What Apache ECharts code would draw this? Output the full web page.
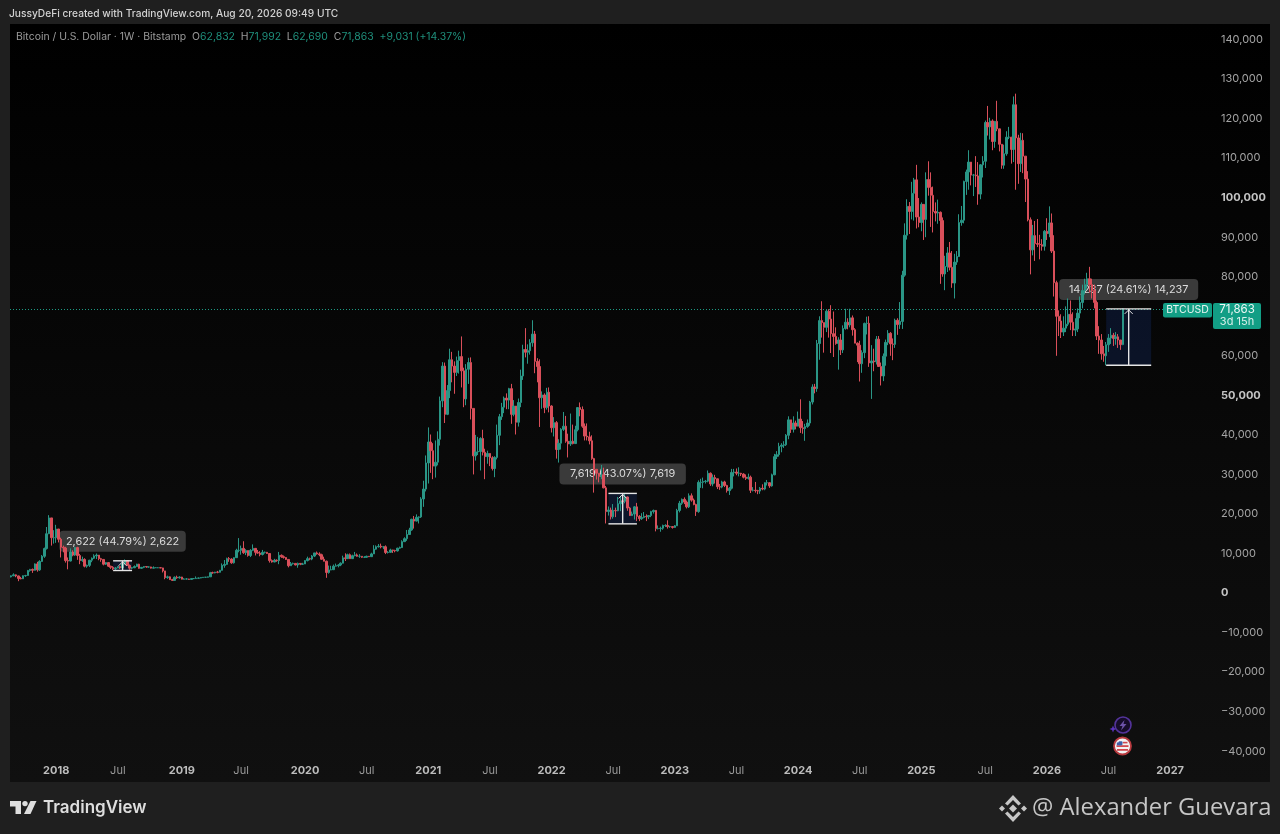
<!DOCTYPE html>
<html>
<head>
<meta charset="utf-8">
<title>Bitcoin / U.S. Dollar</title>
<style>html,body{margin:0;padding:0;background:#1e1e1e;overflow:hidden}#c{width:1280px;height:834px;filter:blur(0.6px)}</style>
<script src="https://cdn.jsdelivr.net/npm/echarts@6/dist/echarts.min.js"></script>
</head>
<body>
<div id="c"></div>
<script>
// Weekly values in thousands of US dollars. Weeks run from Monday 2017-08-21.
const firstOpen = 4.1;
const close2017 = [4.35,4.6,4.33,3.7,3.6,4.37,4.43,5.68,5.98,5.75,7.37,5.86,8.0,9.3,11.25,15.0,19.0,14.0,14.0];
const high2017  = [4.45,4.98,4.7,4.4,4.1,4.45,4.6,5.85,6.1,6.2,7.5,7.9,8.3,9.6,11.5,16.7,19.7,19.0,15.9];
const low2017   = [3.95,4.3,4.0,3.0,3.5,3.6,4.1,4.4,5.4,5.1,5.7,5.4,5.6,7.9,8.9,11.0,14.9,12.0,12.5];

const close2018 = [16.2,13.6,11.6,11.4,8.2,8.1,10.4,9.6,11.5,9.5,8.2,8.5,6.8,7.0,8.3,8.8,9.4,9.6,8.7,8.5,7.3,7.7,6.8,6.5,6.15,6.35,6.7,6.35,7.4,8.2,7.0,6.3,6.4,6.7,7.3,6.25,6.5,6.7,6.6,6.6,6.3,6.4,6.4,6.4,6.35,5.6,3.9,4.1,3.4,3.2,4.0,3.85];
const high2018  = [17.25,15.0,14.0,12.0,11.7,9.0,11.3,10.8,11.7,11.7,9.9,9.2,8.8,7.2,8.4,9.0,9.8,10.0,9.4,8.9,8.6,7.8,7.8,6.9,6.8,6.6,6.8,6.8,7.6,8.5,8.3,7.2,6.6,7.0,7.4,7.4,6.6,6.8,6.8,6.7,6.65,6.75,6.55,6.5,6.55,6.4,5.6,4.4,4.2,3.6,4.2,4.4];
const low2018   = [12.7,12.8,9.0,10.3,7.7,6.0,8.0,9.3,9.4,8.4,7.3,7.9,6.5,6.4,6.6,7.8,8.6,8.6,8.3,7.9,7.0,7.1,6.6,6.1,5.8,5.8,6.3,6.1,6.3,7.3,6.9,5.9,6.1,6.3,6.7,6.15,6.1,6.3,6.4,6.4,6.2,6.3,6.35,6.3,6.3,5.2,3.5,3.6,3.3,3.15,3.2,3.6];

const close2019 = [4.05,3.5,3.55,3.55,3.45,3.65,3.65,3.75,3.8,3.9,4.0,4.0,4.1,5.15,5.1,5.3,5.25,5.75,7.0,7.25,8.7,8.6,7.65,8.95,10.8,10.8,11.3,10.2,10.75,9.5,10.8,11.3,10.3,10.1,9.75,10.3,10.3,10.0,8.2,7.85,8.3,8.2,9.55,9.2,9.0,8.5,6.9,7.4,7.5,7.1,7.5,7.3,7.35];
const high2019  = [4.25,4.1,3.75,3.75,3.6,3.75,3.75,4.2,3.9,3.95,4.0,4.05,4.15,5.35,5.4,5.35,5.6,5.85,7.5,8.35,8.95,9.1,8.8,9.0,11.2,13.9,12.0,13.1,11.1,10.2,11.1,12.3,11.4,10.9,10.6,10.9,10.5,10.4,10.05,8.5,8.65,8.5,10.4,9.75,9.5,9.1,8.5,7.85,7.7,7.5,7.7,7.55,7.65];
const low2019   = [3.65,3.45,3.45,3.45,3.35,3.4,3.55,3.65,3.65,3.75,3.85,3.9,3.95,4.05,4.9,5.0,5.0,5.2,5.7,6.4,7.2,7.9,7.4,7.45,8.9,10.3,9.7,9.9,9.6,9.2,9.1,10.6,9.5,9.95,9.3,9.5,10.0,9.9,7.7,7.7,7.8,7.9,7.3,8.9,8.7,8.35,6.5,6.85,7.2,7.0,6.4,7.05,7.1];

const close2020 = [8.2,8.7,8.6,9.35,10.15,9.9,9.7,8.55,8.05,5.2,5.85,5.9,6.8,6.9,7.1,7.55,8.9,8.7,9.7,8.7,9.45,9.65,9.3,9.3,9.05,9.05,9.3,9.2,9.9,11.1,11.7,11.85,11.65,11.7,10.25,10.3,10.9,10.75,10.65,11.35,11.5,13.0,13.75,14.8,15.95,18.65,18.2,19.15,19.25,23.8,26.3,32.9];
const high2020  = [8.3,9.2,8.95,9.6,10.15,10.5,10.3,9.95,9.2,8.2,6.95,6.9,7.2,7.45,7.3,7.75,9.45,10.05,9.95,10.0,9.7,10.4,10.0,9.85,9.3,9.3,9.45,9.3,10.2,12.1,12.05,12.4,12.5,11.8,12.05,10.6,11.2,10.95,10.95,11.45,11.75,13.35,14.1,15.95,16.5,18.8,19.5,19.9,19.4,24.25,28.4,34.8];
const low2020   = [7.7,8.0,8.3,8.3,9.1,9.7,9.3,8.4,8.0,3.85,4.9,5.8,5.9,6.75,6.5,6.8,7.5,8.1,8.8,8.8,8.65,9.3,9.2,8.9,8.9,8.85,8.9,9.1,9.15,9.9,10.95,11.5,11.3,11.1,9.85,10.0,10.2,10.15,10.3,10.5,11.2,11.4,12.9,13.2,14.8,15.75,16.3,18.1,17.6,19.0,21.8,25.7];

const close2021 = [38.2,36.0,32.1,33.1,38.9,48.6,57.4,45.2,51.2,59.0,57.4,55.8,58.8,59.8,56.2,49.1,56.6,58.3,46.7,34.7,35.7,35.8,39.1,35.6,34.5,35.3,34.2,31.5,34.3,39.9,44.6,47.0,49.3,48.8,51.7,45.2,47.3,43.2,48.2,54.9,61.6,60.9,61.3,63.3,65.5,58.6,57.3,49.4,50.1,46.9,50.8,47.3];
const high2021  = [41.9,40.1,37.9,38.6,40.9,49.7,58.4,58.3,52.6,61.8,61.0,58.6,59.8,61.3,64.9,57.0,57.9,59.5,59.6,45.9,40.0,39.5,39.4,41.3,36.5,36.0,35.1,34.6,34.6,42.6,45.3,48.1,49.7,50.5,51.9,52.9,48.8,45.2,49.2,56.5,62.8,67.0,62.9,64.2,69.0,66.3,59.4,59.1,51.0,50.5,51.9,52.0];
const low2021   = [27.7,30.4,28.8,29.2,32.3,37.3,47.0,43.0,45.0,49.3,53.3,50.4,54.9,55.5,52.0,47.0,47.5,52.9,43.9,30.0,33.5,34.9,31.0,34.8,28.8,32.7,32.1,31.0,29.3,33.8,37.4,43.8,45.5,46.5,46.5,42.8,44.7,40.1,42.1,47.0,53.9,59.6,58.0,60.3,62.3,55.6,53.3,42.0,46.6,45.5,46.4,45.7];

const close2022 = [41.8,43.1,36.3,37.9,41.4,42.2,38.4,37.7,38.4,37.8,41.3,46.9,46.4,42.2,39.7,39.5,38.5,34.0,31.3,30.3,29.5,29.9,26.6,20.6,21.0,19.3,20.9,20.8,22.6,23.3,23.2,24.3,21.5,19.6,20.0,21.8,19.4,18.8,19.1,19.4,19.3,19.6,20.6,20.9,16.3,16.3,16.4,17.1,17.1,16.8,16.8,16.6];
const high2022  = [47.5,44.5,43.5,38.9,41.7,45.8,44.8,40.3,45.4,42.6,42.3,47.0,48.2,47.2,42.9,42.9,40.8,39.9,34.2,31.0,30.2,32.4,31.7,27.1,21.9,21.6,22.5,21.6,24.3,24.6,23.9,25.2,24.4,21.8,20.6,22.0,22.8,19.7,20.2,20.5,19.9,19.7,20.8,21.1,21.0,17.1,16.8,17.3,17.4,18.4,17.0,16.9];
const low2022   = [40.6,39.6,34.0,33.0,36.3,41.0,38.0,34.3,37.2,37.6,37.7,40.9,44.7,41.8,38.6,38.6,37.6,33.7,25.4,28.7,28.0,28.8,26.5,17.6,19.6,18.6,18.8,19.2,20.7,20.7,22.6,22.7,20.8,19.5,19.5,18.6,18.2,18.2,18.5,18.9,18.2,18.7,19.2,20.1,15.6,16.1,15.5,16.0,16.7,16.3,16.5,16.3];

const close2023 = [17.0,20.9,22.7,23.7,23.0,21.8,24.6,23.5,22.4,20.6,28.0,28.0,28.2,28.3,30.3,27.6,29.2,28.9,26.9,26.8,28.1,27.2,25.9,26.5,30.5,30.6,30.3,30.3,30.1,29.3,29.0,29.3,26.0,26.0,25.9,25.8,26.5,26.3,27.9,27.9,27.1,29.9,34.5,35.0,37.1,37.4,37.5,39.9,43.8,41.4,43.0,42.2];
const high2023  = [17.2,21.3,23.3,23.9,24.2,23.4,25.2,25.2,23.9,22.6,28.5,28.9,29.2,28.6,31.0,30.5,30.0,29.9,28.4,27.6,28.4,28.4,27.4,26.8,31.4,31.4,31.5,31.8,30.4,30.3,30.0,30.2,29.7,26.8,28.1,26.1,26.8,27.5,28.0,28.6,28.0,30.2,35.2,35.9,38.0,37.9,38.4,40.2,44.7,43.4,44.7,43.6];
const low2023   = [16.5,17.2,20.4,22.3,22.5,21.4,21.5,23.1,22.2,19.5,20.3,26.6,26.5,27.7,28.0,27.1,27.0,27.7,26.3,26.1,26.5,26.8,25.4,24.8,26.2,29.5,29.8,29.5,29.6,29.0,28.6,28.7,25.3,25.7,25.4,25.0,25.1,26.0,26.0,27.2,26.6,26.9,29.8,33.9,34.5,35.6,36.7,37.2,38.9,40.5,40.6,41.4];

const close2024 = [44.0,41.8,41.6,42.1,43.0,48.3,52.1,51.7,63.1,68.9,68.4,67.2,71.3,69.3,65.6,64.9,63.1,64.0,61.5,66.9,68.5,67.8,69.6,66.6,63.2,62.7,58.0,60.8,68.2,68.2,58.2,58.7,58.5,64.2,57.3,54.9,59.9,63.4,65.7,63.0,62.9,69.0,67.9,68.7,80.4,90.5,97.8,96.5,101.1,104.5,95.1,93.7,98.3];
const high2024  = [45.9,49.0,43.5,42.8,43.9,48.6,52.8,52.9,64.0,70.0,73.8,68.0,71.6,71.8,72.8,71.2,67.2,64.7,65.5,67.7,71.9,69.5,71.9,70.2,67.0,63.4,63.8,61.4,68.4,69.9,70.0,62.7,61.8,65.0,65.0,58.3,60.6,64.1,66.5,66.0,64.4,69.4,69.5,73.6,81.5,93.5,99.6,98.9,104.0,105.0,108.3,99.9,98.8];
const low2024   = [42.6,40.5,40.3,38.5,41.8,42.3,47.7,50.5,50.9,59.0,64.6,60.8,66.0,64.6,60.7,59.7,62.8,56.5,60.2,60.7,66.6,66.7,67.2,65.1,63.2,58.4,53.5,55.7,59.4,65.4,57.2,49.1,56.1,57.8,57.2,52.5,53.6,57.5,62.7,60.0,58.9,62.0,65.3,66.8,66.8,80.0,89.4,90.8,94.5,94.2,92.2,92.5,91.5];

const close2025 = [94.5,104.6,102.6,100.6,96.5,96.1,96.3,94.2,80.7,82.6,86.0,82.4,78.4,83.7,85.1,93.7,94.3,104.1,106.5,109.0,105.7,105.7,105.5,100.9,108.3,109.2,119.0,117.9,119.4,114.2,119.3,117.4,113.5,108.2,111.1,115.3,115.3,112.2,123.5,115.1,108.6,114.5,110.5,104.7,94.4,86.8,90.4,88.4,88.2,88.1,87.7,91.5];
const high2025  = [95.9,106.4,109.2,106.4,102.8,98.8,99.5,96.5,95.0,85.3,87.5,88.8,86.5,85.8,86.5,95.8,97.9,104.3,107.1,112.0,106.8,106.0,110.5,109.0,108.5,110.5,119.5,123.2,120.2,119.8,119.4,124.5,117.4,113.5,113.4,116.8,117.9,113.4,125.6,126.3,115.9,116.4,116.3,107.3,106.7,95.0,93.1,94.1,94.6,90.6,89.5,91.8];
const low2025   = [89.3,90.0,100.5,92.6,91.2,94.0,93.4,78.2,80.0,76.6,81.2,81.6,77.2,74.5,83.0,85.0,92.9,93.5,100.7,102.0,103.1,100.4,102.7,98.2,99.6,105.1,107.5,115.7,114.7,112.0,112.6,116.8,111.7,107.3,107.3,110.6,114.8,108.6,109.0,102.0,103.5,106.5,106.2,98.9,94.0,80.6,85.4,84.0,87.5,84.4,86.6,86.6];

const close2026 = [90.9,93.6,86.5,78.5,70.0,68.8,66.0,67.0,68.0,70.5,68.5,66.5,66.8,70.8,73.5,76.5,78.0,79.5,78.0,76.5,73.5,65.0,64.0,60.5,60.0,62.8,64.5,65.2,64.4,64.8,64.0,62.832,71.863];
const high2026  = [94.8,97.8,96.0,90.5,79.0,71.5,70.5,70.0,72.5,74.5,74.0,71.0,69.5,72.0,75.0,78.0,79.5,81.0,82.5,79.5,78.0,74.0,67.5,65.5,62.5,63.5,65.5,67.0,65.8,66.0,65.5,64.0,71.992];
const low2026   = [89.3,90.0,86.0,75.0,60.0,65.0,64.5,65.0,66.0,67.5,66.5,65.0,65.0,66.0,69.5,72.0,75.5,77.0,76.0,74.5,72.0,64.0,60.5,59.0,58.5,57.6,61.0,63.0,62.5,62.8,62.0,61.5,62.69];

// Axis labels
const firstWeek = '2017-08-21';
const weekCount = 508;
const xTickWeeks  = ['2018-01-01','2018-07-02','2019-01-07','2019-07-01','2020-01-06','2020-07-06','2021-01-04','2021-07-05','2022-01-03','2022-07-04','2023-01-02','2023-07-03','2024-01-01','2024-07-01','2024-12-30','2025-07-07','2026-01-05','2026-07-06','2027-01-04'];
const xTickLabels = ['2018','Jul','2019','Jul','2020','Jul','2021','Jul','2022','Jul','2023','Jul','2024','Jul','2025','Jul','2026','Jul','2027'];
const strongPrices = [0, 50000, 100000];

// Price range drawings
const toolFrom  = ['2018-06-18','2022-06-20','2026-06-29'];
const toolTo    = ['2018-08-13','2022-09-12','2026-11-09'];
const toolLow   = [5700, 17500, 57626];
const toolHigh  = [8150, 25200, 71863];
const toolTexts = ['2,622 (44.79%) 2,622','7,619 (43.07%) 7,619','14,237 (24.61%) 14,237'];

// Text
const creditText  = 'JussyDeFi created with TradingView.com, Aug 20, 2026 09:49 UTC';
const symbolText  = 'Bitcoin / U.S. Dollar · 1W · Bitstamp';
const legendParts = [['O','62,832'],['H','71,992'],['L','62,690'],['C','71,863']];
const changeText  = '+9,031 (+14.37%)';
const lastTicker  = 'BTCUSD';
const lastPrice   = 71863;
const lastText    = '71,863';
const countdown   = '3d 15h';

const UP = '#2a9686', DOWN = '#d94f5a';
const FONT = 'Inter, "Noto Sans", sans-serif';

const closes = [].concat(close2017,close2018,close2019,close2020,close2021,close2022,close2023,close2024,close2025,close2026);
const highs  = [].concat(high2017,high2018,high2019,high2020,high2021,high2022,high2023,high2024,high2025,high2026);
const lows   = [].concat(low2017,low2018,low2019,low2020,low2021,low2022,low2023,low2024,low2025,low2026);

const weeks = [];
{
  const t0 = Date.parse(firstWeek + 'T00:00:00Z');
  for (let i = 0; i < weekCount; i++) weeks.push(new Date(t0 + i * 7 * 864e5).toISOString().slice(0, 10));
}
const candles = closes.map((c, i) => {
  const o = i ? closes[i - 1] : firstOpen;
  return [o, c, Math.min(lows[i], o, c), Math.max(highs[i], o, c)].map(v => Math.round(v * 1000));
});
const toolData = toolFrom.map((f, i) => [weeks.indexOf(f), weeks.indexOf(toolTo[i]), toolLow[i], toolHigh[i]]);

// Box and label sit behind the candles, the measuring lines in front of them.
function renderToolBack(params, api) {
  const a = api.coord([api.value(0), api.value(3)]);
  const b = api.coord([api.value(1), api.value(2)]);
  const mx = (a[0] + b[0]) / 2;
  const text = toolTexts[params.dataIndex];
  const w = text.length * 6.32;
  return {type: 'group', children: [
    {type: 'rect', shape: {x: a[0], y: a[1], width: b[0] - a[0], height: b[1] - a[1]}, style: {fill: 'rgba(41,98,255,0.13)'}},
    {type: 'rect', shape: {x: mx - w / 2, y: a[1] - 30, width: w, height: 21, r: 4}, style: {fill: '#3a3a3a'}},
    {type: 'text', style: {x: mx, y: a[1] - 19.5, text: text, fill: '#dcdcdc', font: '10.9px ' + FONT, align: 'center', verticalAlign: 'middle'}}
  ]};
}
function renderToolFront(params, api) {
  const a = api.coord([api.value(0), api.value(3)]);
  const b = api.coord([api.value(1), api.value(2)]);
  const mx = (a[0] + b[0]) / 2;
  const line = {stroke: '#e6e6e6', lineWidth: 1.4};
  return {type: 'group', children: [
    {type: 'line', shape: {x1: a[0], y1: a[1], x2: b[0], y2: a[1]}, style: line},
    {type: 'line', shape: {x1: a[0], y1: b[1], x2: b[0], y2: b[1]}, style: line},
    {type: 'line', shape: {x1: mx, y1: a[1], x2: mx, y2: b[1]}, style: line},
    {type: 'polyline', shape: {points: [[mx - 4, a[1] + 5], [mx, a[1] + 1], [mx + 4, a[1] + 5]]}, style: {stroke: '#e6e6e6', lineWidth: 1, fill: 'none'}}
  ]};
}
function renderPriceLine(params, api) {
  const y = Math.round(api.coord([0, api.value(1)])[1]) + 0.5;
  const left = params.coordSys.x, right = left + params.coordSys.width;
  return {type: 'line', shape: {x1: left, y1: y, x2: right, y2: y}, style: {stroke: '#1d9a83', lineWidth: 1, lineDash: [1, 2]}};
}
function renderTag(params, api) {
  const y = api.coord([0, api.value(1)])[1];
  const right = params.coordSys.x + params.coordSys.width;
  return {type: 'group', children: [
    {type: 'rect', shape: {x: right - 51, y: y - 6, width: 49, height: 14.5, r: 2}, style: {fill: '#129e85'}},
    {type: 'text', style: {x: right - 26.5, y: y + 1.2, text: lastTicker, fill: '#e8f5f2', font: '10.5px ' + FONT, align: 'center', verticalAlign: 'middle'}},
    {type: 'rect', shape: {x: right - 1, y: y - 6, width: 48, height: 26, r: 2}, style: {fill: '#129e85'}},
    {type: 'text', style: {x: right + 23, y: y + 1, text: lastText, fill: '#eef8f6', font: '11.5px ' + FONT, align: 'center', verticalAlign: 'middle'}},
    {type: 'text', style: {x: right + 23, y: y + 13, text: countdown, fill: '#d6efe9', font: '11px ' + FONT, align: 'center', verticalAlign: 'middle'}}
  ]};
}

const chart = echarts.init(document.getElementById('c'), null, {renderer: 'canvas', width: 1280, height: 834});

const legendRich = {g: {fill: '#9a9a9a', font: '10.45px ' + FONT}, v: {fill: '#1f8f7c', font: '10.45px ' + FONT}};
const legendText = '{g|' + symbolText + '}  ' + legendParts.map(p => '{g|' + p[0] + '}{v|' + p[1] + '}').join('  ') + '  {v|' + changeText + '}';

const logoCol = '#dedede', wmCol = '#c6c6c6';
const cx = 1013, cy = 808.5;
function dia(x, y, r) { return {type: 'polygon', z: 100, shape: {points: [[x - r, y], [x, y - r], [x + r, y], [x, y + r]]}, style: {fill: wmCol}}; }

const graphicEls = [
  {type: 'rect', z: -10, silent: true, shape: {x: 10, y: 24, width: 1260, height: 758},
    style: {fill: new echarts.graphic.LinearGradient(0, 0, 0, 1, [{offset: 0, color: '#000000'}, {offset: 1, color: '#101010'}])}},
  {type: 'text', z: 100, x: 9, y: 14, style: {text: creditText, fill: '#d2d2d2', font: '500 10.2px ' + FONT, verticalAlign: 'middle'}},
  {type: 'text', z: 100, x: 16, y: 37, style: {text: legendText, rich: legendRich, font: '10.45px ' + FONT, verticalAlign: 'middle'}},
  // TradingView logo
  {type: 'polygon', z: 100, shape: {points: [[10, 801], [21, 801], [21, 814], [15.5, 814], [15.5, 806.5], [10, 806.5]]}, style: {fill: logoCol}},
  {type: 'circle', z: 100, shape: {cx: 25, cy: 803.6, r: 2.7}, style: {fill: logoCol}},
  {type: 'polygon', z: 100, shape: {points: [[30.5, 801], [36.5, 801], [30.5, 814], [24, 814]]}, style: {fill: logoCol}},
  {type: 'text', z: 100, x: 43, y: 808, style: {text: 'TradingView', fill: logoCol, font: '600 17px ' + FONT, verticalAlign: 'middle'}},
  // Watermark
  dia(cx, cy, 4),
  dia(cx - 11, cy, 3), dia(cx + 11, cy, 3),
  {type: 'polygon', z: 100, shape: {points: [[cx - 8, cy - 5], [cx, cy - 13.5], [cx + 8, cy - 5], [cx + 5.5, cy - 3], [cx, cy - 8.5], [cx - 5.5, cy - 3]]}, style: {fill: wmCol}},
  {type: 'polygon', z: 100, shape: {points: [[cx - 8, cy + 5], [cx, cy + 13.5], [cx + 8, cy + 5], [cx + 5.5, cy + 3], [cx, cy + 8.5], [cx - 5.5, cy + 3]]}, style: {fill: wmCol}},
  {type: 'text', z: 100, x: 1032, y: 808, style: {text: '@ Alexander Guevara', fill: wmCol, font: '23.8px "Open Sans", sans-serif', verticalAlign: 'middle'}},
  // Event icons
  {type: 'circle', z: 100, shape: {cx: 1123, cy: 725, r: 8}, style: {fill: '#160c2a', stroke: '#53339a', lineWidth: 1.6}},
  {type: 'polygon', z: 100, shape: {points: [[1124.5, 720], [1119.5, 726], [1122.5, 726], [1121, 730.5], [1126.5, 724], [1123.5, 724]]}, style: {fill: '#6d52a8'}},
  {type: 'polygon', z: 100, shape: {points: [[1113, 725.5], [1114, 728], [1116.5, 729], [1114, 730], [1113, 732.5], [1112, 730], [1109.5, 729], [1112, 728]]}, style: {fill: '#5a32c0'}},
  {type: 'circle', z: 100, shape: {cx: 1122.5, cy: 746, r: 8.5}, style: {fill: '#f2f2f2', stroke: '#b83a3f', lineWidth: 1.8}},
  {type: 'rect', z: 100, shape: {x: 1116.5, y: 745.2, width: 12, height: 1.8}, style: {fill: '#d0484e'}},
  {type: 'rect', z: 100, shape: {x: 1117, y: 749, width: 11, height: 1.8}, style: {fill: '#d0484e'}},
  {type: 'rect', z: 100, shape: {x: 1118.5, y: 741.2, width: 4, height: 4, r: 1}, style: {fill: '#3c5fa8'}},
  {type: 'rect', z: 100, shape: {x: 1116.8, y: 742.5, width: 4.5, height: 2.8}, style: {fill: '#3c5fa8'}},
  {type: 'rect', z: 100, shape: {x: 1123, y: 741.8, width: 4.5, height: 1.6}, style: {fill: '#d0484e'}}
];

chart.setOption({
  animation: false,
  backgroundColor: '#1f1f1f',
  textStyle: {fontFamily: FONT},
  grid: {left: 10, right: 66, top: 39.5, bottom: 834 - 751.2, containLabel: false},
  xAxis: {
    type: 'category', data: weeks, boundaryGap: true,
    axisLine: {show: false}, axisTick: {show: false}, splitLine: {show: false},
    axisLabel: {
      interval: (i, v) => xTickWeeks.includes(v),
      hideOverlap: false, margin: 13.5,
      formatter: v => {
        const t = xTickLabels[xTickWeeks.indexOf(v)];
        return t === 'Jul' ? '{m|' + t + '}' : '{y|' + t + '}';
      },
      rich: {
        y: {color: '#bcbcbc', fontWeight: 700, fontSize: 11, fontFamily: FONT},
        m: {color: '#9a9a9a', fontSize: 11, fontFamily: FONT}
      }
    }
  },
  yAxis: {
    type: 'value', position: 'right', min: -40000, max: 140000, interval: 10000, scale: false,
    axisLine: {show: false}, axisTick: {show: false}, splitLine: {show: false},
    axisLabel: {
      margin: 7,
      formatter: v => {
        const s = (v < 0 ? '\u2212' : '') + Math.abs(v).toLocaleString('en-US');
        return strongPrices.includes(v) ? '{b|' + s + '}' : '{n|' + s + '}';
      },
      rich: {
        n: {color: '#a4a4a4', fontSize: 11, fontFamily: FONT},
        b: {color: '#c4c4c4', fontSize: 11, fontWeight: 700, fontFamily: FONT}
      }
    }
  },
  series: [
    {type: 'custom', renderItem: renderToolBack, data: toolData, z: 1, clip: false, silent: true, encode: {x: 0, y: 3}},
    {type: 'custom', renderItem: renderPriceLine, data: [[closes.length - 1, lastPrice]], z: 1, clip: false, silent: true, encode: {x: 0, y: 1}},
    {
      type: 'candlestick', data: candles, barWidth: 2, z: 2, clip: false,
      itemStyle: {color: UP, color0: DOWN, borderColor: UP, borderColor0: DOWN, borderWidth: 1}
    },
    {type: 'custom', renderItem: renderToolFront, data: toolData, z: 5, clip: false, silent: true, encode: {x: 0, y: 3}},
    {type: 'custom', renderItem: renderTag, data: [[closes.length - 1, lastPrice]], z: 6, clip: false, silent: true, encode: {x: 0, y: 1}}
  ],
  graphic: {elements: graphicEls}
});
</script>
</body>
</html>
